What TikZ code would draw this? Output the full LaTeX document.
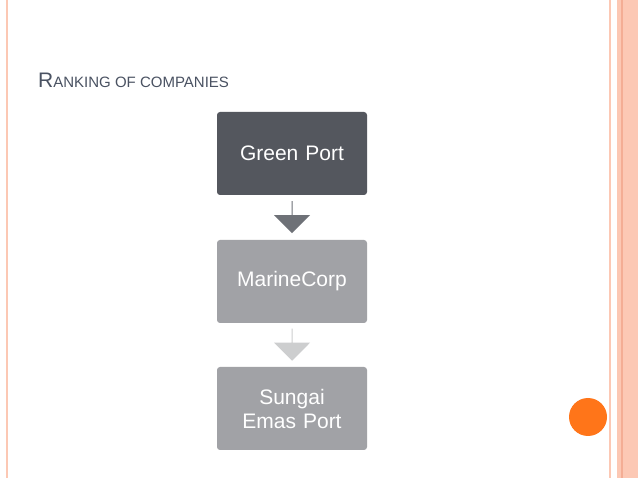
\documentclass[tikz,border=0pt]{standalone}
\usepackage{fontspec}
\setmainfont{Liberation Sans}
\usetikzlibrary{positioning,shapes.arrows}
\definecolor{salmon}{HTML}{FCC8B4}
\definecolor{salmondk}{HTML}{F4AD94}
\definecolor{titlegray}{HTML}{4A5262}
\definecolor{boxdark}{HTML}{54575E}
\definecolor{boxmid}{HTML}{A1A2A6}
\definecolor{arrowdark}{HTML}{6E7177}
\definecolor{arrowlight}{HTML}{CDCECF}
\tikzset{
  rank/.style={rounded corners=3pt, minimum width=150pt, minimum height=83pt,
    text width=140pt, align=center, text=white, font=\fontsize{21}{24}\selectfont},
  rankstep/.style={single arrow, shape border rotate=270, minimum width=36pt,
    single arrow head extend=7pt, minimum height=32pt, inner sep=0pt}
}
\begin{document}
\begin{tikzpicture}[x=1pt,y=-1pt]
\useasboundingbox (0,0) rectangle (638,478);
\fill[white] (0,0) rectangle (638,478);
% page frame
\fill[salmon] (6,0) rectangle (8,478);
\fill[salmon] (609,0) rectangle (611,478);
\fill[salmon] (617,0) rectangle (638,478);
\fill[salmondk] (621,0) rectangle (623,478);
\fill[orange!80!red!90] (588,417) circle (19);
% title
\node[anchor=base west, text=titlegray, inner sep=0pt] (title) at (38,88)
  {\fontsize{21}{24}\selectfont R\fontsize{15}{18}\selectfont ANKING OF COMPANIES};
% ranking
\node[rank, fill=boxdark] (green) at (292,153.5) {Green Port};
\node[rank, fill=boxmid] (marine) at (292,281.5) {MarineCorp};
\node[rank, fill=boxmid] (sungai) at (292,408.5) {Sungai\\Emas Port};
\node[rankstep, fill=arrowdark] (a1) at (292,217) {};
\node[rankstep, fill=arrowlight] (a2) at (292,344.5) {};
\end{tikzpicture}
\end{document}
